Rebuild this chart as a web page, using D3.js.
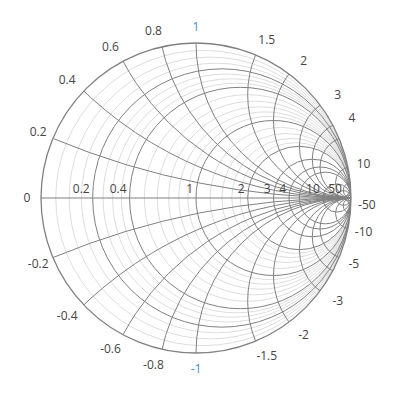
<!DOCTYPE html>
<html><head><meta charset="utf-8">
<script src="https://cdn.jsdelivr.net/npm/d3@7"></script>
<style>body{margin:0;background:#fff}text{font-family:"Open Sans",sans-serif;font-size:12px}</style>
</head><body><svg id="c" width="400" height="400"></svg>
<script>
const majorResistance=[0.2,0.4,1,2,3,4,5,10,20,50];
const resistanceLabels=[0.2,0.4,1,2,3,4,10,50];
const minorResistance=[0.05,0.1,0.15,0.25,0.3,0.35,0.5,0.6,0.7,0.8,0.9,1.2,1.4,1.6,1.8];
const reactance=[0.2,0.4,0.6,0.8,1,1.5,2,3,4,5,10,20,50];
const reactanceLabels=[0.2,0.4,0.6,0.8,1,1.5,2,3,4,10,-0.2,-0.4,-0.6,-0.8,-1,-1.5,-2,-3,-5,-10,-50];
const svg=d3.select("#c");
const sx=d3.scaleLinear().domain([-1,1]).range([41,351]);
const sy=d3.scaleLinear().domain([-1,1]).range([353,43]);
const k=sx(1)-sx(0);
svg.append("clipPath").attr("id","clip").append("circle").attr("cx",sx(0)).attr("cy",sy(0)).attr("r",k);
const g=svg.append("g").attr("clip-path","url(#clip)");
g.selectAll(".mr").data(minorResistance).enter().append("circle")
 .attr("cx",r=>sx(r/(r+1))).attr("cy",sy(0)).attr("r",r=>k/(r+1))
 .attr("fill","none").attr("stroke","#ddd").attr("stroke-width",1);
const xs=reactance.concat(reactance.map(v=>-v));
g.selectAll(".x").data(xs).enter().append("circle")
 .attr("cx",sx(1)).attr("cy",x=>sy(1/x)).attr("r",x=>k/Math.abs(x))
 .attr("fill","none").attr("stroke","#808080").attr("stroke-width",1);
g.selectAll(".r").data(majorResistance).enter().append("circle")
 .attr("cx",r=>sx(r/(r+1))).attr("cy",sy(0)).attr("r",r=>k/(r+1))
 .attr("fill","none").attr("stroke","#808080").attr("stroke-width",1);
svg.append("line").attr("x1",sx(-1)).attr("x2",sx(1)).attr("y1",sy(0)).attr("y2",sy(0)).attr("stroke","#808080");
svg.append("circle").attr("cx",sx(0)).attr("cy",sy(0)).attr("r",k).attr("fill","none").attr("stroke","#808080").attr("stroke-width",1.3);
svg.selectAll(".rl").data(resistanceLabels).enter().append("text")
 .attr("x",r=>sx((r-1)/(r+1))-3).attr("y",sy(0)-5).attr("text-anchor","end")
 .attr("fill","#444").text(d=>d);
svg.append("text").attr("x",sx(-1)-14).attr("y",sy(0)+4).attr("text-anchor","middle").attr("fill","#444").text("0");
svg.selectAll(".xl").data(reactanceLabels).enter().append("text")
 .each(function(x){
   const d=1+x*x, gr=(x*x-1)/d, gi=2*x/d, a=Math.atan2(gi,gr);
   const R=k+16, c=Math.cos(a);
   const shift=(Math.abs(c)>0.1&&Math.abs(c)<0.9)?Math.sign(c)*5:0;
   d3.select(this).attr("x",sx(0)+R*c+shift).attr("y",sy(0)-R*Math.sin(a)+4)
   .attr("text-anchor","middle").attr("fill",Math.abs(x)===1?"#3a8fd9":"#444").text(x);
 });
</script></body></html>
